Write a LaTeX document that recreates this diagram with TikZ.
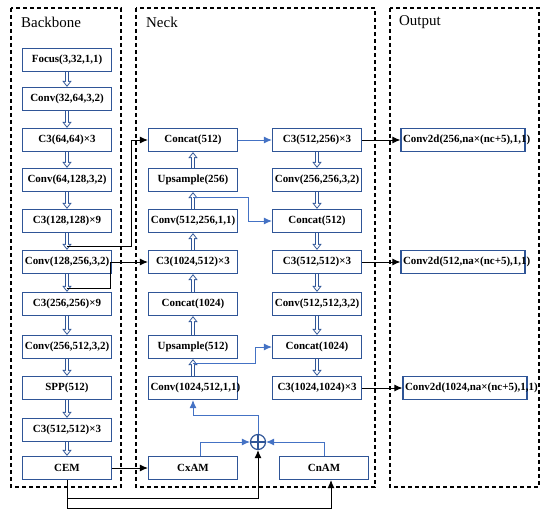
\documentclass[tikz,border=0pt]{standalone}
\usepackage{fontspec}
\setmainfont{Liberation Serif}
\usetikzlibrary{arrows.meta}
\definecolor{boxBlue}{RGB}{47,85,151}
\definecolor{lineBlue}{RGB}{68,114,196}
\tikzset{
	layer/.style={rectangle, draw=boxBlue, line width=1.2bp, fill=white, minimum width=89bp, minimum height=23bp, text width=85bp, align=center, inner sep=2bp, font=\bfseries\fontsize{11}{13}\selectfont},
	outLayer/.style={layer, minimum width=124bp, text width=120bp},
	frame/.style={draw=black, dashed, dash pattern=on 4bp off 3bp, line width=1.2bp},
	title/.style={anchor=west, inner sep=0, font=\fontsize{15}{18}\selectfont},
	hollowArrow/.style={draw=white, line width=2.6bp, shorten >=1.5bp, -{Triangle[length=3.6bp, width=5.4bp]},
		preaction={draw=boxBlue, line width=4.4bp, shorten >=0bp, -{Triangle[length=6bp, width=9bp]}}},
	blackArrow/.style={draw=black, line width=0.9bp, -{Latex[length=8bp, width=7bp]}},
	blueArrow/.style={draw=lineBlue, line width=0.9bp, -{Latex[length=8bp, width=7bp]}}
}
\begin{document}
\begin{tikzpicture}[x=1bp, y=-1bp]
	\useasboundingbox (0,0) rectangle (550,517);
	% dashed frames
	\draw[frame] (11,8) rectangle (121,487);
	\draw[frame] (136,8) rectangle (375,487);
	\draw[frame] (390,8) rectangle (539,487);
	\node[title](backboneTitle) at (21,22){Backbone};
	\node[title](neckTitle) at (146,22){Neck};
	\node[title](outputTitle) at (399,22){Output};
	% backbone
	\node[layer](focus) at (67,60){Focus(3,32,1,1)};
	\node[layer](convA) at (67,99){Conv(32,64,3,2)};
	\node[layer](cThreeA) at (67,140){C3(64,64)×3};
	\node[layer](convB) at (67,180){Conv(64,128,3,2)};
	\node[layer](cThreeB) at (67,221){C3(128,128)×9};
	\node[layer](convC) at (67,262){Conv(128,256,3,2)};
	\node[layer](cThreeC) at (67,304){C3(256,256)×9};
	\node[layer](convD) at (67,347){Conv(256,512,3,2)};
	\node[layer](spp) at (67,388){SPP(512)};
	\node[layer](cThreeD) at (67,430){C3(512,512)×3};
	\node[layer](cem) at (67,468){CEM};
	% neck, upward column
	\node[layer](upConcatA) at (193,140){Concat(512)};
	\node[layer](upSampleA) at (193,180){Upsample(256)};
	\node[layer](upConvA) at (193,221){Conv(512,256,1,1)};
	\node[layer](upCThree) at (193,262){C3(1024,512)×3};
	\node[layer](upConcatB) at (193,304){Concat(1024)};
	\node[layer](upSampleB) at (193,347){Upsample(512)};
	\node[layer](upConvB) at (193,388){Conv(1024,512,1,1)};
	\node[layer](cxam) at (193,468){CxAM};
	\node[layer](cnam) at (324,468){CnAM};
	\node[circle, draw=boxBlue, line width=1.2bp, minimum size=15bp, inner sep=0,
		path picture={\draw[boxBlue, line width=1.2bp] (path picture bounding box.north) -- (path picture bounding box.south) (path picture bounding box.west) -- (path picture bounding box.east);}](plus) at (258,442){};
	% neck, downward column
	\node[layer](dnCThreeA) at (317,140){C3(512,256)×3};
	\node[layer](dnConvA) at (317,180){Conv(256,256,3,2)};
	\node[layer](dnConcatA) at (317,221){Concat(512)};
	\node[layer](dnCThreeB) at (317,262){C3(512,512)×3};
	\node[layer](dnConvB) at (317,304){Conv(512,512,3,2)};
	\node[layer](dnConcatB) at (317,347){Concat(1024)};
	\node[layer](dnCThreeC) at (317,388){C3(1024,1024)×3};
	% output
	\node[outLayer](outA) at (463,140){Conv2d(256,na×(nc+5),1,1)};
	\node[outLayer](outB) at (463,262){Conv2d(512,na×(nc+5),1,1)};
	\node[outLayer](outC) at (465,388){Conv2d(1024,na×(nc+5),1,1)};
	% hollow arrows
	\foreach \a/\b in {focus/convA, convA/cThreeA, cThreeA/convB, convB/cThreeB, cThreeB/convC, convC/cThreeC, cThreeC/convD, convD/spp, spp/cThreeD, cThreeD/cem,
		upConvB/upSampleB, upSampleB/upConcatB, upConcatB/upCThree, upCThree/upConvA, upConvA/upSampleA, upSampleA/upConcatA,
		dnCThreeA/dnConvA, dnConvA/dnConcatA, dnConcatA/dnCThreeB, dnCThreeB/dnConvB, dnConvB/dnConcatB, dnConcatB/dnCThreeC}
		\draw[hollowArrow](\a) -- (\b);
	% black connectors
	\coordinate(tapA) at (67,246);
	\coordinate(tapB) at (67,288);
	\draw[blackArrow](tapA) -- ++(64,0) |- (upConcatA.west);
	\draw[blackArrow](tapB) -- ++(43,0) |- (upCThree.west);
	\draw[blackArrow](cem.east) -- (cxam.west);
	\draw[blackArrow](cem.south) -- ++(0,18) -| (plus.south);
	\draw[blackArrow](cem.south) -- ++(0,28) -| ([xshift=7bp]cnam.south);
	\draw[blackArrow](dnCThreeA.east) -- (outA.west);
	\draw[blackArrow](dnCThreeB.east) -- (outB.west);
	\draw[blackArrow](dnCThreeC.east) -- (outC.west);
	% blue connectors
	\coordinate(tapC) at (193,197);
	\coordinate(tapD) at (193,363);
	\draw[blueArrow](upConcatA.east) -- (dnCThreeA.west);
	\draw[blueArrow](tapC) -- ++(55,0) |- (dnConcatA.west);
	\draw[blueArrow](tapD) -- ++(62,0) |- (dnConcatB.west);
	\draw[blueArrow](plus.north) -- ++(0,-18) -| (upConvB.south);
	\draw[blueArrow]([xshift=7bp]cxam.north) |- (plus.west);
	\draw[blueArrow](cnam.north) |- (plus.east);
\end{tikzpicture}
\end{document}
